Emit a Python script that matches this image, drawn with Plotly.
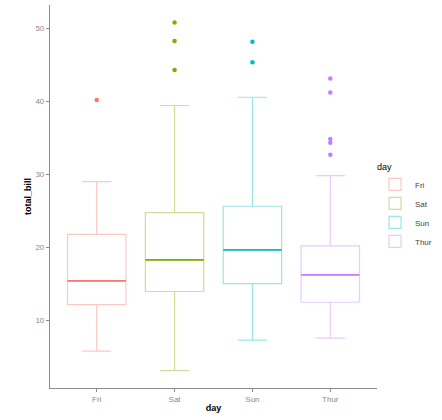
import plotly.graph_objects as go

# box stats per day (tips data)
days = ['Fri', 'Sat', 'Sun', 'Thur']
q1 = [12.10, 13.91, 14.99, 12.44]
median = [15.38, 18.24, 19.63, 16.20]
q3 = [21.75, 24.74, 25.60, 20.16]
lower = [5.75, 3.07, 7.25, 7.51]
upper = [28.97, 39.42, 40.55, 29.80]
outliers = {
    'Fri': [40.17],
    'Sat': [44.30, 48.27, 50.81],
    'Sun': [45.35, 48.17],
    'Thur': [32.68, 34.30, 34.83, 41.19, 43.11],
}
colors = ['#F8766D', '#7CAE00', '#00BFC4', '#C77CFF']


def pale(hexcol, a=0.4):
    h = hexcol.lstrip('#')
    r, g, b = int(h[0:2], 16), int(h[2:4], 16), int(h[4:6], 16)
    return f'rgba({r},{g},{b},{a})'


fig = go.Figure()
for i, d in enumerate(days):
    c = colors[i]
    fig.add_trace(go.Box(
        x=[d], q1=[q1[i]], median=[median[i]], q3=[q3[i]],
        lowerfence=[lower[i]], upperfence=[upper[i]], width=0.75,
        name=d, legendgroup=d, line=dict(color=pale(c), width=1.2),
        fillcolor='rgba(255,255,255,0)', boxpoints=False, hoverinfo='skip',
    ))
    # median drawn again in full colour
    fig.add_trace(go.Box(
        x=[d], q1=[median[i]], median=[median[i]], q3=[median[i]],
        lowerfence=[median[i]], upperfence=[median[i]], width=0.75,
        name=d, legendgroup=d, showlegend=False,
        line=dict(color=c, width=1.8), fillcolor='rgba(255,255,255,0)',
        boxpoints=False, hoverinfo='skip',
    ))
    pts = outliers[d]
    fig.add_trace(go.Scatter(
        x=[d] * len(pts), y=pts, mode='markers', showlegend=False,
        legendgroup=d, marker=dict(color=c, size=4.5),
    ))

axis_common = dict(
    showline=True, linecolor='#8c8c8c', linewidth=1.2,
    ticks='outside', ticklen=3, tickcolor='#8c8c8c',
    tickfont=dict(family='Liberation Sans, Arial', size=8, color='#8a8a8a'),
    showgrid=False, zeroline=False,
)

fig.update_layout(
    width=442, height=420,
    margin=dict(l=50, r=62, t=5, b=32),
    plot_bgcolor='white', paper_bgcolor='white',
    boxmode='overlay',
    xaxis=dict(
        **axis_common, type='category', categoryorder='array',
        categoryarray=days, range=[-0.6, 3.6],
        title=dict(text='<b>day</b>', standoff=1,
                   font=dict(family='Liberation Sans, Arial', size=9, color='black')),
    ),
    yaxis=dict(
        **axis_common, range=[0.68, 53.2], tickvals=[10, 20, 30, 40, 50],
        title=dict(text='<b>total_bill</b>', standoff=2,
                   font=dict(family='Liberation Sans, Arial', size=9, color='black')),
    ),
    legend=dict(
        x=0.994, xanchor='left', y=0.6, yanchor='top',
        title=dict(text='day', font=dict(family='Liberation Sans, Arial', size=9, color='black')),
        font=dict(family='Liberation Sans, Arial', size=8, color='#444'),
        tracegroupgap=0,
    ),
)

fig.write_html('out.html', config={'displayModeBar': False},
               post_script="document.body.style.margin='0px';")
